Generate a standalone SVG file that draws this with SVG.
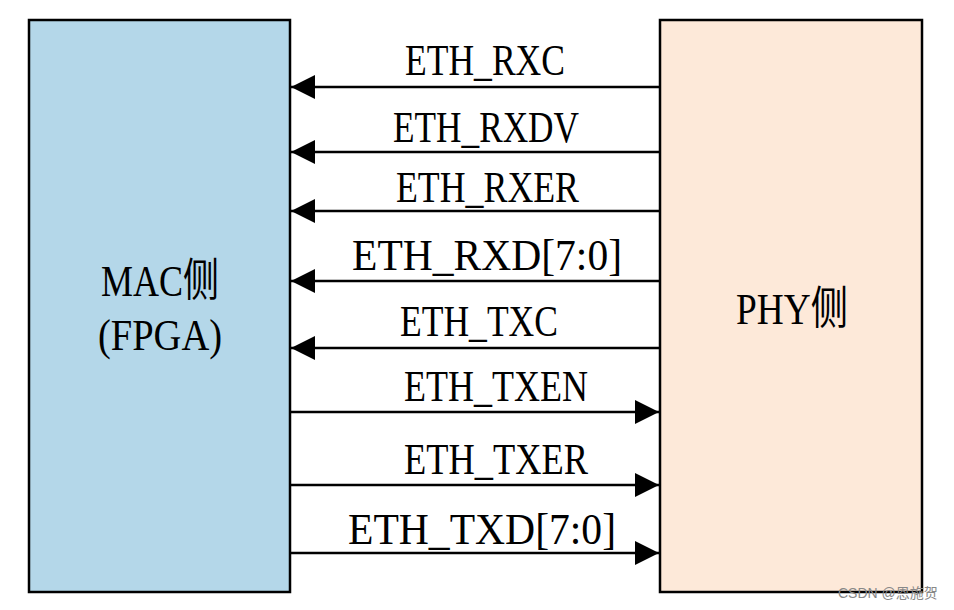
<svg xmlns="http://www.w3.org/2000/svg" width="954" height="610" viewBox="0 0 954 610">
<style>
.l{stroke:#000;stroke-width:2.5;fill:none}
.t{font-family:"Liberation Serif","Noto Sans CJK SC",serif;font-size:45px;fill:#000}
</style>
<defs>
<marker id="a" markerUnits="userSpaceOnUse" markerWidth="26" markerHeight="26" refX="24" refY="12" orient="auto"><path d="M0,0L24,12L0,24z" fill="#000"/></marker>
</defs>
<rect width="954" height="610" fill="#fff"/>
<g id="mac"><rect x="29" y="20" width="261" height="572" fill="#b4d7e9" stroke="#000" stroke-width="2.5"/>
<text class="t" x="160" y="296" text-anchor="middle" textLength="118" lengthAdjust="spacingAndGlyphs">MAC侧</text>
<text class="t" x="160" y="350" text-anchor="middle" textLength="124" lengthAdjust="spacingAndGlyphs">(FPGA)</text></g>
<g id="phy"><rect x="660" y="20" width="262" height="572" fill="#fde9d9" stroke="#000" stroke-width="2.5"/>
<text class="t" x="792" y="324" text-anchor="middle" textLength="112" lengthAdjust="spacingAndGlyphs">PHY侧</text></g>
<g id="connectors">
<path class="l" marker-end="url(#a)" d="M660,87H291"/>
<path class="l" marker-end="url(#a)" d="M660,152H291"/>
<path class="l" marker-end="url(#a)" d="M660,211H291"/>
<path class="l" marker-end="url(#a)" d="M660,281H291"/>
<path class="l" marker-end="url(#a)" d="M660,348H291"/>
<path class="l" marker-end="url(#a)" d="M290,412H659"/>
<path class="l" marker-end="url(#a)" d="M290,485H659"/>
<path class="l" marker-end="url(#a)" d="M290,553H659"/>
</g>
<g id="labels">
<text class="t" x="405" y="75" textLength="160" lengthAdjust="spacingAndGlyphs">ETH_RXC</text>
<text class="t" x="393" y="142" textLength="186" lengthAdjust="spacingAndGlyphs">ETH_RXDV</text>
<text class="t" x="396" y="202" textLength="183" lengthAdjust="spacingAndGlyphs">ETH_RXER</text>
<text class="t" x="352" y="270" textLength="270" lengthAdjust="spacingAndGlyphs">ETH_RXD[7:0]</text>
<text class="t" x="400" y="336" textLength="158" lengthAdjust="spacingAndGlyphs">ETH_TXC</text>
<text class="t" x="404" y="401" textLength="184" lengthAdjust="spacingAndGlyphs">ETH_TXEN</text>
<text class="t" x="404" y="474" textLength="184" lengthAdjust="spacingAndGlyphs">ETH_TXER</text>
<text class="t" x="348" y="544" textLength="268" lengthAdjust="spacingAndGlyphs">ETH_TXD[7:0]</text>
</g>
<text x="838" y="598" font-family="Liberation Sans,'Noto Sans CJK SC',sans-serif" font-size="14" fill="#888">CSDN @恩施贺</text>
</svg>
